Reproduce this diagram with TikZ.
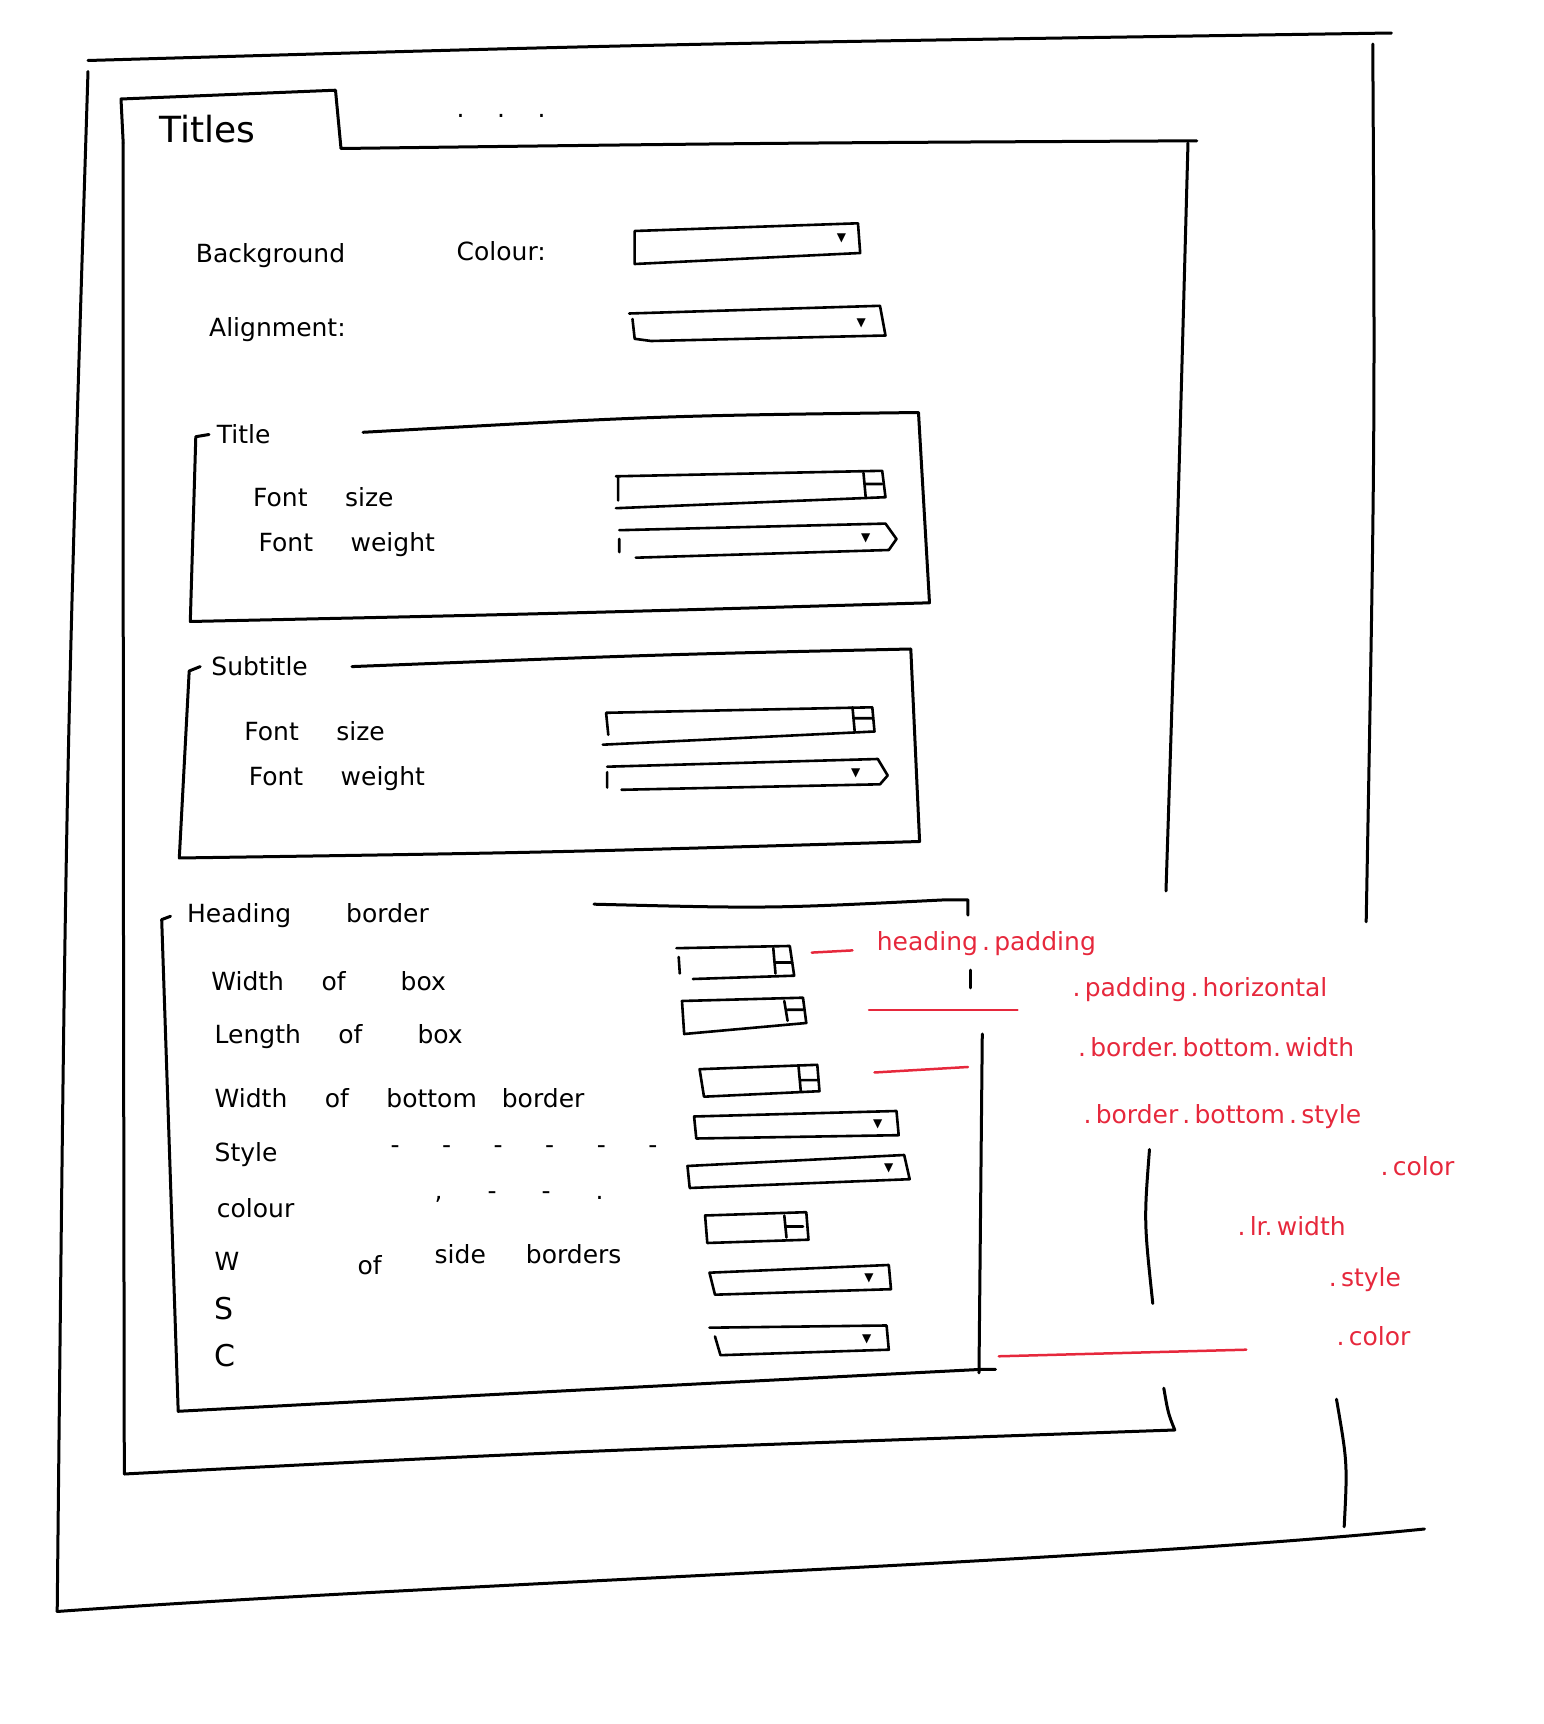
\documentclass[tikz,border=0pt]{standalone}
\usepackage{fontspec}
\setmainfont{DejaVu Sans}
\definecolor{pen}{RGB}{230,40,60}
\begin{document}
\begin{tikzpicture}[x=1.1pt,y=-1.1pt,line cap=round,line join=round,
  ink/.style={line width=3pt,black},
  redink/.style={line width=2.5pt,pen},
  lbl/.style={font=\fontsize{25}{27}\selectfont,inner sep=0pt,anchor=west},
  rlbl/.style={font=\fontsize{25}{27}\selectfont,inner sep=0pt,text=pen,anchor=west},
  mk/.style={font=\fontsize{12}{12}\selectfont,inner sep=0pt},
  field/.style={line width=2.6pt}]
\useasboundingbox (0,0) rectangle (1403.6,1567.3);
% outer frame
\draw[ink] (80,55) .. controls (600,40) .. (1265,30);
\draw[ink] (80,65) .. controls (60,700) .. (52,1465);
\draw[ink] (52,1465) .. controls (400,1440) and (1000,1420) .. (1295,1390);
\draw[ink] (1248,40) .. controls (1250,400) .. (1242,838);
\draw[ink] (1215,1272) .. controls (1225,1330) .. (1222,1388);
% tab
\draw[ink] (112,130) -- (110,90) -- (305,82) -- (310,135) .. controls (700,130) .. (1088,128);
\node[lbl,font=\fontsize{36}{38}\selectfont] (tab) at (145,117) {Titles};
\node[lbl] (dots) at (415,105) {.\hspace{1.3em}.\hspace{1.3em}.};
\draw[ink] (112,130) .. controls (112,700) .. (113,1340);
\draw[ink] (113,1340) .. controls (500,1320) .. (1068,1300) .. controls (1062,1285) .. (1058,1262);
\draw[ink] (1080,130) .. controls (1070,500) .. (1060,810);
% background colour / alignment
\node[lbl] (bg) at (178,232) {Background};
\node[lbl] (bgc) at (415,228) {Colour:};
\draw[field] (577,210) -- (780,203) -- (782,230) -- (577,240) -- cycle;
\node[mk] (m1) at (765,217) {▼};
\node[lbl] (al) at (190,300) {Alignment:};
\draw[field] (572,285) -- (800,278) -- (805,305) -- (592,310) (575,290)--(577,308)--(592,310);
\node[mk] (m2) at (783,294) {▼};
% title group
\draw[ink] (190,395) -- (178,397) -- (173,565) .. controls (500,558) .. (845,548) -- (835,375) .. controls (600,378) .. (330,393);
\node[lbl] (tt) at (197,395) {Title};
\node[lbl] (tfs) at (230,452) {Font\hspace{1.5em}size};
\node[lbl] (tfw) at (235,495) {Font\hspace{1.5em}weight};
\draw[field] (560,433) -- (802,428) -- (805,452) -- (560,462) (562,433)--(562,455);
\draw[field] (785,430) -- (787,452) (787,440)--(802,440);
\draw[field] (563,482) -- (805,476) -- (815,490) -- (808,500) -- (578,507) (563,490)--(563,502);
\node[mk] (m3) at (787,489) {▼};
% subtitle group
\draw[ink] (182,606) -- (172,610) -- (163,780) .. controls (500,775) .. (836,765) -- (828,590) .. controls (600,595) .. (320,606);
\node[lbl] (st) at (192,606) {Subtitle};
\node[lbl] (sfs) at (222,665) {Font\hspace{1.5em}size};
\node[lbl] (sfw) at (226,708) {Font\hspace{1.5em}weight};
\draw[field] (551,648) -- (793,643) -- (795,665) -- (548,677) (551,648)--(553,668);
\draw[field] (775,643) -- (777,665) (777,653)--(793,653);
\draw[field] (552,697) -- (798,690) -- (807,705) -- (800,713) -- (565,718) (552,702)--(552,716);
\node[mk] (m4) at (778,703) {▼};
% heading border group
\draw[ink] (155,833) -- (147,836) -- (162,1283) .. controls (500,1265) .. (890,1245) -- (905,1245);
\draw[ink] (893,940) -- (890,1248);
\draw[ink] (540,822) .. controls (700,826) .. (860,818) -- (880,818) -- (880,832);
\draw[ink] (882,882) -- (882,898);
\node[lbl] (hb) at (170,832) {Heading\hspace{2.2em}border};
\node[lbl] (r1) at (192,892) {Width\hspace{1.5em}of\hspace{2.2em}box};
\draw[field] (615,862) -- (718,860) -- (722,887) -- (630,890) (617,870)--(618,885);
\draw[field] (703,862) -- (705,885) (705,875)--(720,875);
\node[lbl] (r2) at (195,942) {Length\hspace{1.5em}of\hspace{2.2em}box};
\draw[field] (620,910) -- (730,907) -- (733,930) -- (622,940) -- cycle;
\draw[field] (713,910) -- (716,928) (716,918)--(730,918);
\node[lbl] (r3) at (195,998) {Width\hspace{1.5em}of\hspace{1.5em}bottom\hspace{1em}border};
\draw[field] (636,972) -- (743,968) -- (745,992) -- (640,997) -- cycle;
\draw[field] (726,970) -- (728,992) (728,982)--(743,982);
\node[lbl] (r4) at (195,1050) {Style};
\node[lbl] (d4) at (355,1045) {-\hspace{1.7em}-\hspace{1.7em}-\hspace{1.7em}-\hspace{1.7em}-\hspace{1.7em}-};
\draw[field] (631,1015) -- (815,1010) -- (817,1032) -- (633,1035) -- cycle;
\node[mk] (m5) at (798,1022) {▼};
\node[lbl] (r5) at (197,1098) {colour};
\node[lbl] (d5) at (395,1088) {,\hspace{1.8em}-\hspace{1.8em}-\hspace{1.8em}.};
\draw[field] (625,1060) -- (822,1050) -- (827,1072) -- (627,1080) -- cycle;
\node[mk] (m6) at (808,1062) {▼};
\node[lbl] (r6a) at (195,1147) {W};
\node[lbl] (r6b) at (325,1150) {of};
\node[lbl] (r6c) at (395,1140) {side\hspace{1.6em}borders};
\draw[field] (641,1105) -- (733,1102) -- (735,1127) -- (643,1130) -- cycle;
\draw[field] (713,1105) -- (715,1125) (715,1115)--(730,1115);
\node[lbl,font=\fontsize{30}{30}\selectfont] (r7) at (195,1190) {S};
\draw[field] (645,1157) -- (808,1150) -- (810,1172) -- (650,1177) -- cycle;
\node[mk] (m7) at (790,1162) {▼};
\node[lbl,font=\fontsize{30}{30}\selectfont] (r8) at (195,1232) {C};
\draw[field] (645,1207) -- (806,1205) -- (808,1227) -- (655,1232) -- (650,1215);
\node[mk] (m8) at (788,1218) {▼};
% red annotations
\draw[redink] (738,866) -- (775,864);
\node[rlbl] (a1) at (797,858) {heading\,.\,padding};
\draw[redink] (790,918) -- (925,918);
\node[rlbl] (a2) at (975,900) {.\,padding\,.\,horizontal};
\draw[redink] (795,975) -- (880,970);
\node[rlbl] (a3) at (980,952) {.\,border.\,bottom.\,width};
\node[rlbl] (a4) at (985,1015) {.\,border\,.\,bottom\,.\,style};
\node[rlbl] (a5) at (1255,1060) {.\,color};
\node[rlbl] (a6) at (1125,1115) {.\,lr.\,width};
\node[rlbl] (a7) at (1208,1163) {.\,style};
\node[rlbl] (a8) at (1215,1215) {.\,color};
\draw[redink] (908,1233) -- (1133,1227);
\draw[ink] (1045,1045) .. controls (1040,1110) .. (1048,1185);
\end{tikzpicture}
\end{document}
